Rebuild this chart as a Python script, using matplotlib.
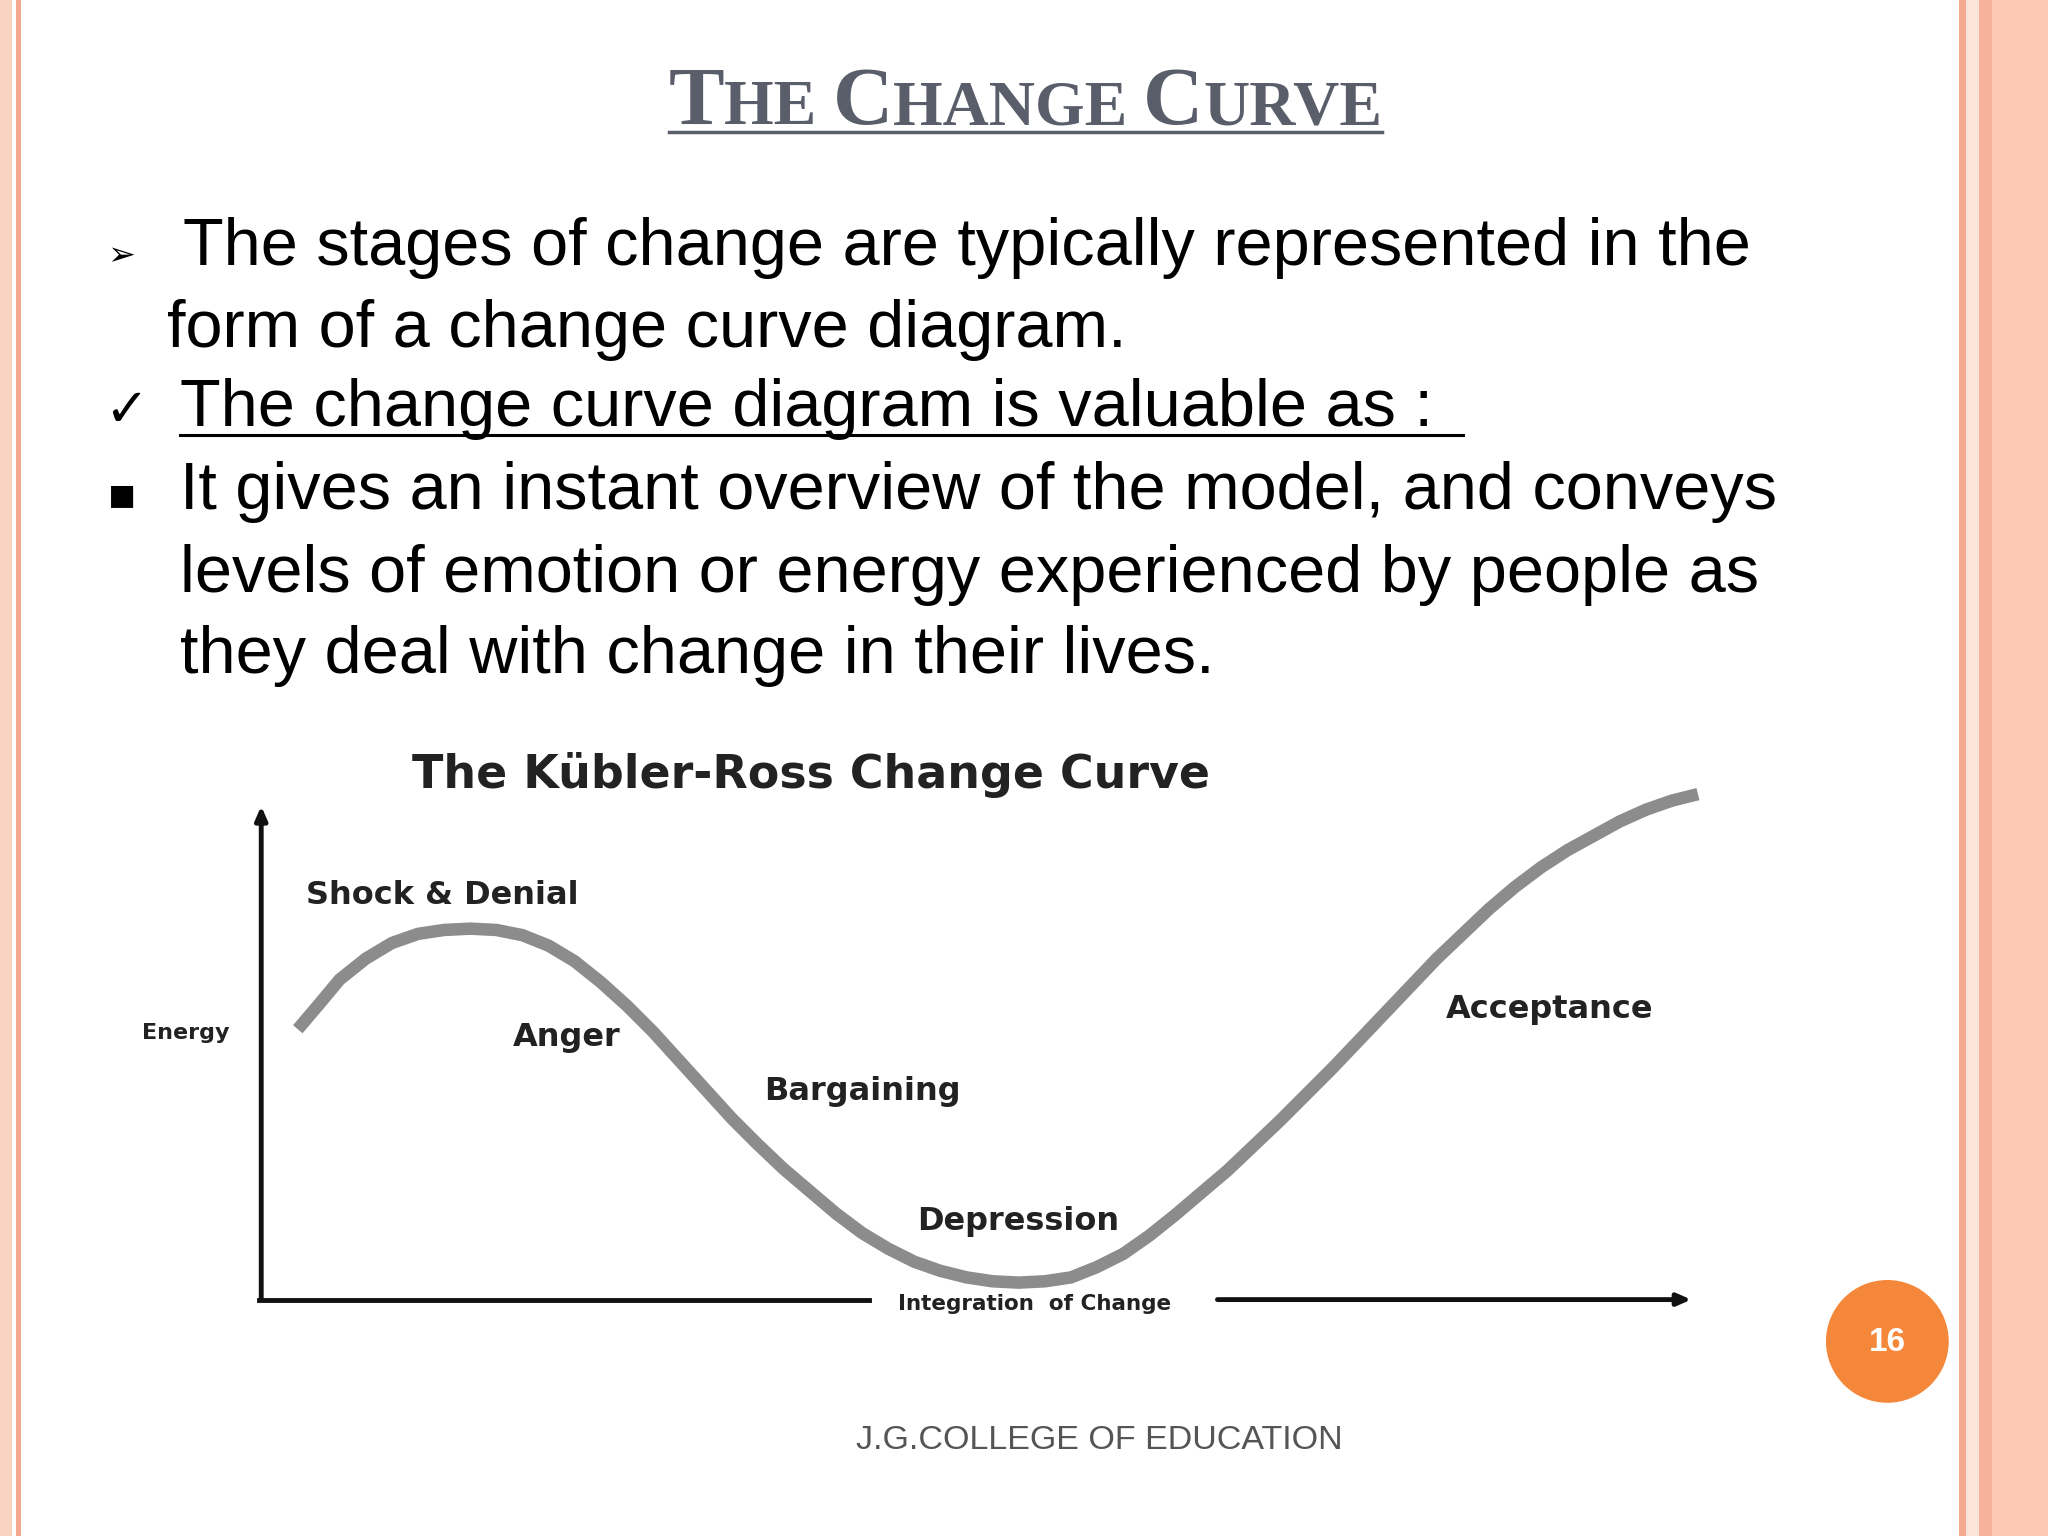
import matplotlib
matplotlib.use("Agg")
import matplotlib.pyplot as plt
from matplotlib.patches import Rectangle, Circle

curve_x = [228,245,260,280,300,320,340,360,380,400,420,440,460,480,500,520,540,560,580,600,620,640,660,680,700,720,740,760,780,800,820,840,860,880,900,920,940,960,980,1000,1020,1040,1060,1080,1100,1120,1140,1160,1180,1200,1220,1240,1260,1280,1300]
curve_y = [788,768,750,734,722,715,712,711,712,716,724,736,752,770,790,812,834,856,876,895,912,929,944,956,966,973,978,981,982,981,978,970,960,946,930,913,896,877,858,838,818,797,776,755,734,715,696,679,664,651,640,629,620,613,608]
stage_labels = ["Shock & Denial","Anger","Bargaining","Depression","Acceptance"]
stage_x = [234,393,585,702,1107]
stage_y = [686,794,836,935,773]

W, H = 1568, 1176
fig = plt.figure(figsize=(20.48,15.36), dpi=100)
ax = fig.add_axes([0,0,1,1])
ax.set_xlim(0,W); ax.set_ylim(H,0); ax.axis('off')

ax.add_patch(Rectangle((0,0),9,H,color='#fbd3c3',lw=0))
ax.add_patch(Rectangle((12,0),4,H,color='#f5a98f',lw=0))
ax.add_patch(Rectangle((1500,0),5,H,color='#f5a98f',lw=0))
ax.add_patch(Rectangle((1505,0),10,H,color='#fde4da',lw=0))
ax.add_patch(Rectangle((1515,0),10,H,color='#f7b29b',lw=0))
ax.add_patch(Rectangle((1525,0),43,H,color='#fbc8b3',lw=0))

fig.canvas.draw()
r = fig.canvas.get_renderer()
parts = [("T",60),("HE ",46),("C",60),("HANGE ",46),("C",60),("URVE",46)]
x = 512
inv = ax.transData.inverted()
for s,fs in parts:
    t = ax.text(x,95,s,fontsize=fs,family='Liberation Serif',weight='bold',color='#5a5e6b',va='baseline')
    bb = t.get_window_extent(r)
    x0 = inv.transform((bb.x0,0))[0]; x1 = inv.transform((bb.x1,0))[0]
    x += (x1-x0)
ax.plot([512,x],[101,101],color='#5a5e6b',lw=2.5)

body = dict(fontsize=48,family='Liberation Sans',color='black',va='baseline')
ax.text(82,203,"➢",fontsize=24,family='DejaVu Sans',va='baseline')
ax.text(140,203,"The stages of change are typically represented in the",**body)
ax.text(128,266,"form of a change curve diagram.",**body)
ax.text(80,326,"✓",fontsize=38,family='DejaVu Sans',va='baseline')
ax.text(138,326,"The change curve diagram is valuable as :",**body)
ax.plot([138,1120],[333,333],color='black',lw=2.2)
ax.text(82,388,"▪",fontsize=32,family='DejaVu Sans',va='baseline')
ax.text(138,390,"It gives an instant overview of the model, and conveys",**body)
ax.text(138,453,"levels of emotion or energy experienced by people as",**body)
ax.text(138,515,"they deal with change in their lives.",**body)

ax.text(621,603,"The Kübler-Ross Change Curve",fontsize=33,weight='bold',family='DejaVu Sans',color='#222',ha='center',va='baseline')
ax.annotate("",xy=(200,615),xytext=(200,996),arrowprops=dict(arrowstyle='-|>,head_length=0.8,head_width=0.35',color='#111',lw=3.5))
ax.plot([198,665],[995,995],color='#111',lw=3.5)
ax.annotate("",xy=(1297,995),xytext=(930,995),arrowprops=dict(arrowstyle='-|>,head_length=0.8,head_width=0.35',color='#111',lw=3.5))
ax.plot(curve_x,curve_y,color='#8c8c8c',lw=9,solid_capstyle='butt',solid_joinstyle='round')
for s,xx,yy in zip(stage_labels,stage_x,stage_y):
    ax.text(xx,yy,s,fontsize=23,weight='bold',family='DejaVu Sans',color='#222',va='center')
ax.text(142,791,"Energy",fontsize=16,weight='bold',family='DejaVu Sans',color='#222',ha='center',va='center')
ax.text(792,998,"Integration  of Change",fontsize=15.5,weight='bold',family='DejaVu Sans',color='#222',ha='center',va='center')

ax.add_patch(Circle((1445,1027),47,color='#f5873a',lw=0))
ax.text(1445,1028,"16",fontsize=24,weight='bold',color='white',ha='center',va='center',family='Liberation Sans')
ax.text(842,1103,"J.G.COLLEGE OF EDUCATION",fontsize=24.5,color='#555',ha='center',va='center',family='Liberation Sans')

fig.savefig("out.png",dpi=100)
